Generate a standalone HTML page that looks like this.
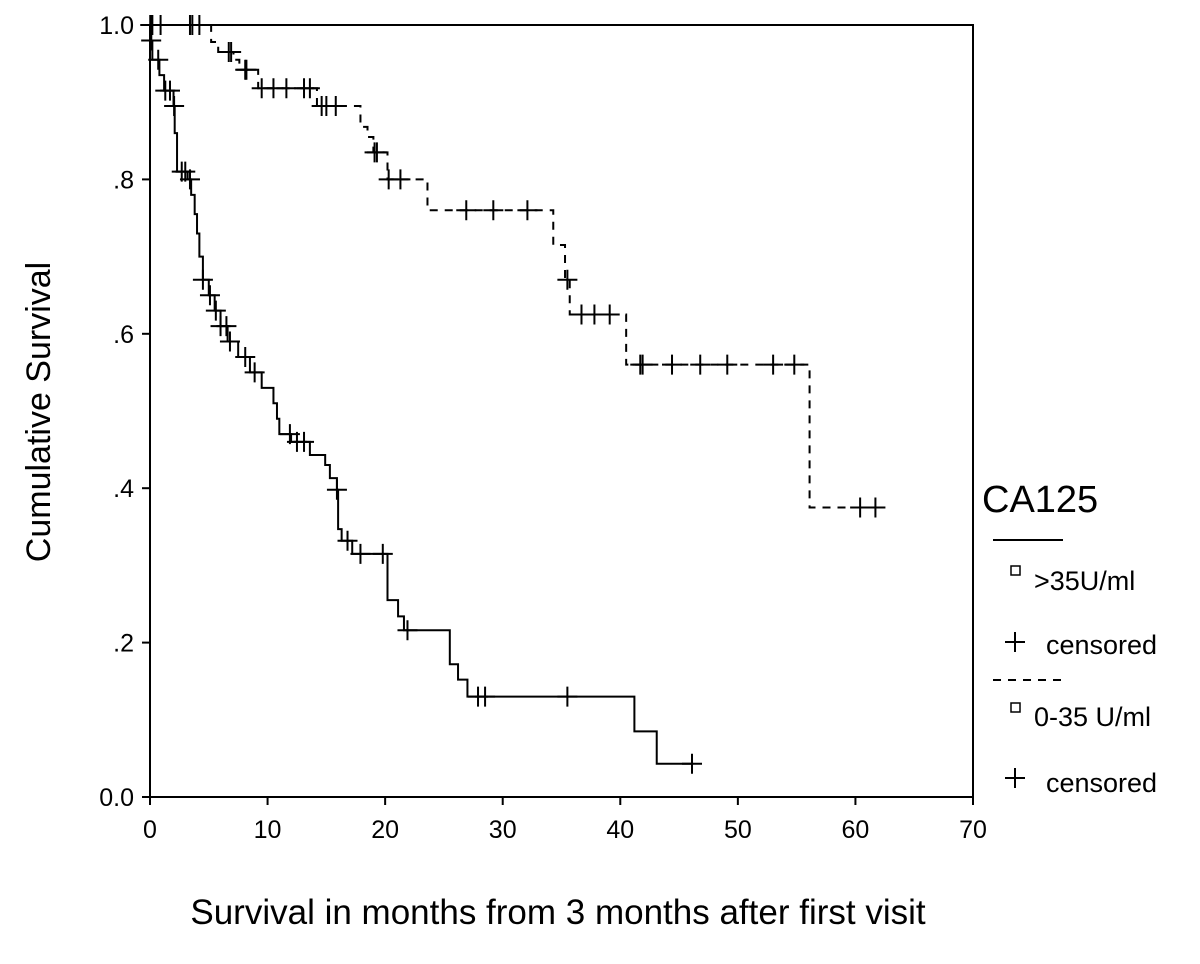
<!DOCTYPE html>
<html><head><meta charset="utf-8"><style>
html,body{margin:0;padding:0;background:#fff;}
svg{display:block;font-family:"Liberation Sans",Arial,sans-serif;}
</style></head><body>
<svg id="chart" width="1200" height="964" viewBox="0 0 1200 964">
<rect x="150" y="25" width="823" height="772" fill="none" stroke="#000" stroke-width="2"/>
<g id="axes"></g>
<g id="series"></g>
<text x="50" y="412" font-size="34" text-anchor="middle" transform="rotate(-90 50 412)">Cumulative Survival</text>
<text x="558" y="924" font-size="35" text-anchor="middle">Survival in months from 3 months after first visit</text>
<g>
<text x="982" y="512" font-size="38">CA125</text>
<line x1="993" y1="540" x2="1063" y2="540" stroke="#000" stroke-width="2"/>
<rect x="1011" y="566" width="9" height="9" fill="none" stroke="#000" stroke-width="1.5"/>
<text x="1034" y="590" font-size="27">&gt;35U/ml</text>
<path d="M1015 632v20M1005 642h20" stroke="#000" stroke-width="2"/>
<text x="1046" y="654" font-size="27">censored</text>
<line x1="993" y1="680" x2="1063" y2="680" stroke="#000" stroke-width="2" stroke-dasharray="8,7"/>
<rect x="1011" y="703" width="9" height="9" fill="none" stroke="#000" stroke-width="1.5"/>
<text x="1034" y="726" font-size="27">0-35 U/ml</text>
<path d="M1015 768v20M1005 778h20" stroke="#000" stroke-width="2"/>
<text x="1046" y="792" font-size="27">censored</text>
</g>
</svg>
<script>
const xTicks=[0,10,20,30,40,50,60,70];
const yTicks=[0,0.2,0.4,0.6,0.8,1.0];
const yTickLabels=["0.0",".2",".4",".6",".8","1.0"];
const highTimes=[0,0.1,0.2,0.8,1.2,2.0,2.1,2.3,3.2,3.5,3.8,4.0,4.2,4.5,5.0,5.5,6.0,6.6,7.5,8.5,9.5,10.5,10.8,11.0,12.0,13.6,14.9,15.3,15.9,16.0,16.3,17.2,20.2,21.1,21.6,25.5,26.2,27.0,41.2,43.1];
const highSurv=[1,0.98,0.955,0.935,0.915,0.895,0.86,0.81,0.80,0.78,0.755,0.73,0.70,0.67,0.65,0.63,0.61,0.59,0.57,0.55,0.53,0.51,0.49,0.47,0.46,0.443,0.43,0.413,0.398,0.347,0.332,0.315,0.255,0.234,0.216,0.172,0.152,0.13,0.085,0.043];
const highEnd=46.2;
const highCensor=[0.02,0.05,0.08,0.1,0.7,1.3,1.7,2.05,2.7,3.0,3.4,4.5,5.1,5.6,6.0,6.5,6.8,8.1,8.9,11.9,12.5,13.1,15.9,16.8,17.9,19.8,21.9,27.9,28.5,35.5,46.1];
const lowTimes=[0,5.2,5.8,7.1,7.6,9.2,14.2,17.9,18.5,19.0,20.2,23.6,34.3,35.3,35.7,40.5,56.1];
const lowSurv=[1,0.978,0.965,0.955,0.942,0.918,0.895,0.868,0.855,0.835,0.80,0.76,0.715,0.67,0.625,0.56,0.375];
const lowEnd=62;
const lowCensor=[0.2,0.9,3.4,3.6,4.2,6.7,6.9,8.1,8.2,9.5,10.5,11.6,13.1,13.6,14.6,15.0,15.8,19.1,19.3,20.3,21.3,26.9,29.2,32.1,35.5,36.7,37.8,39.1,41.7,41.9,44.4,46.8,49.1,53.0,54.8,60.4,61.7];

const NS="http://www.w3.org/2000/svg";
const X=t=>150+t*823/70;
const Y=s=>797-s*772;
function mk(tag,attrs,parent){const e=document.createElementNS(NS,tag);for(const k in attrs)e.setAttribute(k,attrs[k]);parent.appendChild(e);return e;}
const axes=document.getElementById('axes');
xTicks.forEach(v=>{
  const l=mk('line',{x1:X(v),x2:X(v),y1:797,y2:805,stroke:'#000','stroke-width':2},axes);
  
  
  const t=mk('text',{x:X(v),y:838,'font-size':25,'text-anchor':'middle'},axes);
  t.textContent=v;
  
  
});
yTicks.forEach((v,i)=>{
  const l=mk('line',{x1:142,x2:150,y1:Y(v),y2:Y(v),stroke:'#000','stroke-width':2},axes);
  
  
  const t=mk('text',{x:134,y:Y(v)+9,'font-size':25,'text-anchor':'end'},axes);
  t.textContent=yTickLabels[i];
  
  
});
const g=document.getElementById('series');
function stepAt(times,surv,t){let s=surv[0];for(let i=0;i<times.length;i++){if(times[i]<=t)s=surv[i];}return s;}
function draw(times,surv,end,cens,dash,name){
  let d='M'+X(times[0])+' '+Y(surv[0]);
  for(let i=1;i<times.length;i++){d+=' H'+X(times[i])+' V'+Y(surv[i]);}
  d+=' H'+X(end);
  const p=mk('path',{d:d,fill:'none',stroke:'#000','stroke-width':2},g);
  if(dash)p.setAttribute('stroke-dasharray','8,7');
  
  
  cens.forEach(t=>{
    const s=stepAt(times,surv,t);
    const m=mk('path',{d:'M'+X(t)+' '+(Y(s)-10)+'v20M'+(X(t)-10)+' '+Y(s)+'h20',stroke:'#000','stroke-width':2},g);
    
    
  });
}
draw(highTimes,highSurv,highEnd,highCensor,false,'high-ca125');
draw(lowTimes,lowSurv,lowEnd,lowCensor,true,'low-ca125');
</script>
</body></html>
